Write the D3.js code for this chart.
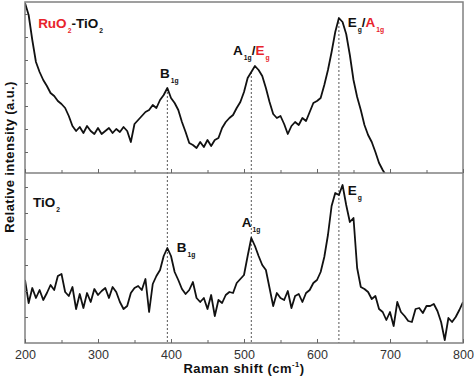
<!DOCTYPE html>
<html>
<head>
<meta charset="utf-8">
<script src="https://cdn.jsdelivr.net/npm/d3@7"></script>
<style>
  body { margin: 0; background: #fff; }
  svg { display: block; font-family: "Liberation Sans", Arial, sans-serif; }
</style>
</head>
<body>
<script>
// Raman shift sampling (cm-1)
var shift = [200,205,210,215,220,225,230,235,240,245,250,255,260,265,270,275,280,285,290,295,
  300,305,310,315,320,325,330,335,340,345,350,355,360,365,370,375,380,385,390,395,
  400,405,410,415,420,425,430,435,440,445,450,455,460,465,470,475,480,485,490,495,
  500,505,510,515,520,525,530,535,540,545,550,555,560,565,570,575,580,585,590,595,
  600,605,610,615,620,625,630,635,640,645,650,655,660,665,670,675,680,685,690,695,
  700,705,710,715,720,725,730,735,740,745,750,755,760,765,770,775,780,785,790,795,800];

// RuO2-TiO2 spectrum (a.u.), 200..695
var ruo2Tio2 = [170,158,133,111,101,93,87,80,77,72,69,65,57,47,42,46,40,47,42,39,
  45,39,42,45,40,44,41,46,42,31,49,53,57,61,63,68,65,73,78,85,
  75,70,63,51,41,30,28,25,31,26,33,27,33,35,45,51,55,58,65,71,
  81,95,101,107,103,97,85,71,59,55,57,49,39,47,51,48,55,52,61,70,
  72,75,88,103,121,141,155,151,139,118,93,76,63,48,38,31,21,10,3,-3];

// TiO2 spectrum (a.u.), 200..800
var tio2 = [63,40,55,45,53,43,50,58,53,67,69,51,47,56,34,49,35,50,41,54,
  48,52,55,45,56,51,41,34,37,50,55,57,53,64,31,59,67,73,87,95,
  87,71,63,54,49,53,61,45,41,45,34,48,27,43,40,48,51,50,60,64,
  68,87,105,97,87,78,73,55,37,50,45,43,52,35,47,49,41,50,53,60,
  63,71,86,108,137,150,148,158,138,121,125,75,56,54,51,44,47,34,31,23,
  31,17,41,31,27,22,21,34,35,30,37,37,39,32,21,3,25,21,26,33,41];

// dotted reference lines (cm-1)
var peakLines = [395, 510, 630];

var xTickLabels = [200, 300, 400, 500, 600, 700, 800];
var xMinorTicks = [250, 350, 450, 550, 650, 750];

var RED = "#e8232b";

// peak labels: [shift, intensity, parts]
var topLabels = [
  [385, 95, [["B"], ["1g", 0, 1]]],
  [485, 118, [["A"], ["1g", 0, 1], ["/"], ["E", 1], ["g", 1, 1]]],
  [642, 146, [["E"], ["g", 0, 1], ["/"], ["A", 1], ["1g", 1, 1]]],
  [218, 145, [["RuO", 1], ["2", 1, 1], ["-TiO"], ["2", 0, 1]]]
];
var bottomLabels = [
  [408, 91, [["B"], ["1g", 0, 1]]],
  [497, 116, [["A"], ["1g", 0, 1]]],
  [642, 148, [["E"], ["g", 0, 1]]],
  [211, 136, [["TiO"], ["2", 0, 1]]]
];

var W = 474, H = 377;
var padL = 25, padR = 463, padT = 2, midY = 173, padB = 343;

var svg = d3.select("body").append("svg")
  .attr("width", W)
  .attr("height", H);

var x = d3.scaleLinear().domain([200, 800]).range([padL, padR]);
var yTop = d3.scaleLinear().domain([0, 170]).range([midY, padT + 1]);
var yBot = d3.scaleLinear().domain([0, 170]).range([padB, midY]);

svg.append("clipPath").attr("id", "clipTop")
  .append("rect").attr("x", padL).attr("y", padT).attr("width", padR - padL).attr("height", midY - padT);
svg.append("clipPath").attr("id", "clipBot")
  .append("rect").attr("x", padL).attr("y", midY).attr("width", padR - padL).attr("height", padB - midY);

// dotted lines from the top peaks down to the bottom axis
svg.append("g").selectAll("line")
  .data(peakLines)
  .enter().append("line")
    .attr("x1", function(d) { return x(d); })
    .attr("x2", function(d) { return x(d); })
    .attr("y1", function(d) { return yTop(ruo2Tio2[shift.indexOf(d)]); })
    .attr("y2", padB)
    .attr("stroke", "#555")
    .attr("stroke-width", 1)
    .attr("stroke-dasharray", "2,2");

// spectra
var lineTop = d3.line()
  .x(function(d, i) { return x(shift[i]); })
  .y(function(d) { return yTop(d); });
var lineBot = d3.line()
  .x(function(d, i) { return x(shift[i]); })
  .y(function(d) { return yBot(d); });

svg.append("path")
  .datum(ruo2Tio2)
  .attr("clip-path", "url(#clipTop)")
  .attr("fill", "none")
  .attr("stroke", "#111")
  .attr("stroke-width", 1.8)
  .attr("stroke-linejoin", "round")
  .attr("d", lineTop);

svg.append("path")
  .datum(tio2)
  .attr("clip-path", "url(#clipBot)")
  .attr("fill", "none")
  .attr("stroke", "#111")
  .attr("stroke-width", 1.8)
  .attr("stroke-linejoin", "round")
  .attr("d", lineBot);

// frame
var frame = svg.append("g")
  .attr("fill", "none")
  .attr("stroke", "#808080")
  .attr("stroke-width", 1.5);
frame.append("rect")
  .attr("x", padL).attr("y", padT)
  .attr("width", padR - padL).attr("height", padB - padT);
frame.append("line")
  .attr("x1", padL).attr("x2", padR)
  .attr("y1", midY).attr("y2", midY);

// inward ticks
function tickAxis(g) {
  g.selectAll(".domain").remove();
  g.selectAll(".tick line").attr("stroke", "#666");
  g.selectAll("text").remove();
}

[midY, padB].forEach(function(yy) {
  svg.append("g")
    .attr("transform", "translate(0," + yy + ")")
    .call(d3.axisTop(x).tickValues(xTickLabels).tickSize(4).tickFormat(""))
    .call(tickAxis);
  svg.append("g")
    .attr("transform", "translate(0," + yy + ")")
    .call(d3.axisTop(x).tickValues(xMinorTicks).tickSize(3).tickFormat(""))
    .call(tickAxis);
});

svg.append("g")
  .attr("transform", "translate(" + padL + ",0)")
  .call(d3.axisRight(yTop).tickValues([21, 44, 67, 90, 113, 136, 159]).tickSize(3).tickFormat(""))
  .call(tickAxis);
svg.append("g")
  .attr("transform", "translate(" + padL + ",0)")
  .call(d3.axisRight(yBot).tickValues([26, 52, 78, 104, 130, 156]).tickSize(3).tickFormat(""))
  .call(tickAxis);

// x tick labels
var xAxis = svg.append("g")
  .attr("transform", "translate(0," + padB + ")")
  .call(d3.axisBottom(x).tickValues(xTickLabels).tickSize(0).tickPadding(7).tickFormat(d3.format("d")));
xAxis.select(".domain").remove();
xAxis.selectAll("text")
  .attr("font-family", "'Liberation Sans', Arial, sans-serif")
  .attr("font-size", 12.5)
  .attr("fill", "#333");

// labels with sub/superscripts
function richText(g, px, py, parts, size) {
  var t = g.append("text")
    .attr("x", px)
    .attr("y", py)
    .attr("font-size", size)
    .attr("font-weight", "bold");
  var lowered = false;
  parts.forEach(function(p) {
    var s = t.append("tspan")
      .text(p[0])
      .attr("fill", p[1] ? RED : "#111");
    if (p[2] && !lowered) {
      s.attr("dy", 5).attr("font-size", size * 0.5).attr("dx", 1);
      lowered = true;
    } else if (p[2]) {
      s.attr("font-size", size * 0.5);
    } else if (!p[2] && lowered) {
      s.attr("dy", -5);
      lowered = false;
    }
  });
  return t;
}

var labelG = svg.append("g");
topLabels.forEach(function(l) {
  richText(labelG, x(l[0]), yTop(l[1]), l[2], 13.5);
});
bottomLabels.forEach(function(l) {
  richText(labelG, x(l[0]), yBot(l[1]), l[2], 13.5);
});

// axis titles
var xTitle = svg.append("text")
  .attr("x", 244)
  .attr("y", 373)
  .attr("text-anchor", "middle")
  .attr("font-size", 13)
  .attr("font-weight", "bold")
  .attr("letter-spacing", 0.5)
  .attr("fill", "#111");
xTitle.append("tspan").text("Raman shift (cm");
xTitle.append("tspan").text("-1").attr("font-size", 7.5).attr("dy", -6);
xTitle.append("tspan").text(")").attr("dy", 6);

svg.append("text")
  .attr("transform", "translate(14,157) rotate(-90)")
  .attr("text-anchor", "middle")
  .attr("font-size", 13)
  .attr("font-weight", "bold")
  .attr("letter-spacing", 0.4)
  .attr("fill", "#111")
  .text("Relative intensity (a.u.)");
</script>
</body>
</html>
